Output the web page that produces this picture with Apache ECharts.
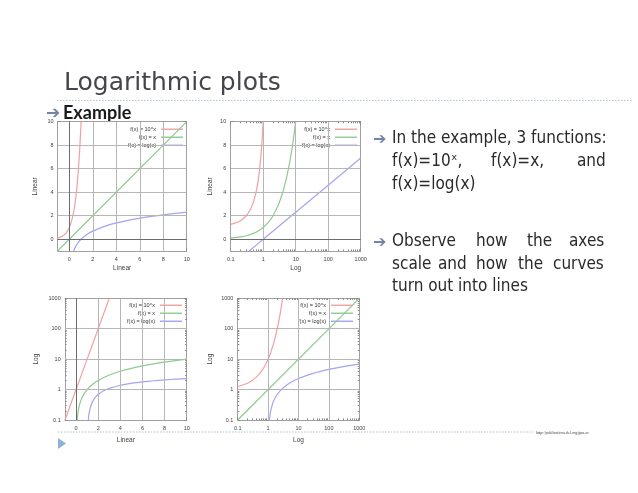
<!DOCTYPE html>
<html><head><meta charset="utf-8">
<script src="https://cdn.jsdelivr.net/npm/echarts@6/dist/echarts.min.js"></script>
<style>html,body{margin:0;padding:0;background:#fff}#c{width:638px;height:493px}</style>
</head><body><div id="c"></div>
<script>
// ---------- data ----------
const seriesNames = ['f(x) = 10^x', 'f(x) = x', 'f(x) = log(x)'];
const linTicks = [0, 2, 4, 6, 8, 10];
const logTicks = [0.1, 1, 10, 100, 1000];
const logTickLabels = ['0.1', '1', '10', '100', '1000'];
const logMinorTicks = [0.2,0.3,0.4,0.5,0.6,0.7,0.8,0.9,2,3,4,5,6,7,8,9,20,30,40,50,60,70,80,90,200,300,400,500,600,700,800,900];
const linGridLines = [2, 4, 6, 8];
const logGridLines = [1, 10, 100];
const zeroLines = [0];

// chart 1: linear x, linear y
const linLinExp = [[-1,0.1],[-0.75,0.18],[-0.5,0.32],[-0.25,0.56],[0,1],[0.2,1.58],[0.4,2.51],[0.6,3.98],[0.7,5.01],[0.8,6.31],[0.9,7.94],[1,10]];
const linLinId = [[-1,-1],[10,10]];
const linLinLog = [[0.37,-1],[0.5,-0.69],[0.75,-0.29],[1,0],[1.5,0.41],[2,0.69],[3,1.1],[4,1.39],[5,1.61],[6,1.79],[7,1.95],[8,2.08],[9,2.2],[10,2.3]];
// chart 2: log x, linear y
const logLinExp = [[0.1,1.26],[0.2,1.58],[0.3,2],[0.4,2.51],[0.5,3.16],[0.6,3.98],[0.7,5.01],[0.8,6.31],[0.9,7.94],[1,10]];
const logLinId = [[0.1,0.1],[0.2,0.2],[0.3,0.3],[0.5,0.5],[0.7,0.7],[1,1],[1.5,1.5],[2,2],[3,3],[4,4],[5,5],[6,6],[7,7],[8,8],[10,10]];
const logLinLog = [[0.37,-1],[1,0],[10,2.3],[100,4.6],[1000,6.91]];
// chart 3: linear x, log y
const linLogExp = [[-1,0.1],[0,1],[1,10],[2,100],[3,1000]];
const linLogId = [[0.1,0.1],[0.12,0.12],[0.15,0.15],[0.2,0.2],[0.3,0.3],[0.4,0.4],[0.5,0.5],[0.75,0.75],[1,1],[1.5,1.5],[2,2],[3,3],[4,4],[5,5],[6,6],[7,7],[8,8],[9,9],[10,10]];
const linLogLog = [[1.105,0.1],[1.13,0.12],[1.16,0.15],[1.22,0.2],[1.35,0.3],[1.5,0.41],[1.75,0.56],[2,0.69],[2.5,0.92],[3,1.1],[4,1.39],[5,1.61],[6,1.79],[7,1.95],[8,2.08],[9,2.2],[10,2.3]];
// chart 4: log x, log y
const logLogExp = [[0.1,1.26],[0.2,1.58],[0.3,2],[0.4,2.51],[0.5,3.16],[0.6,3.98],[0.7,5.01],[0.8,6.31],[1,10],[1.2,15.8],[1.5,31.6],[1.8,63.1],[2,100],[2.5,316],[3,1000]];
const logLogId = [[0.1,0.1],[1000,1000]];
const logLogLog = [[1.105,0.1],[1.13,0.12],[1.16,0.15],[1.22,0.2],[1.35,0.3],[1.5,0.41],[2,0.69],[3,1.1],[5,1.61],[10,2.3],[30,3.4],[100,4.6],[300,5.7],[1000,6.91]];

// ---------- layout / style ----------
const colors = ['#f2a0a0', '#8fca8f', '#a4a4f2'];
const panels = [
  { grid:{left:57.6, top:121.7, width:129.1, height:129.3},
    x:{log:false, min:-1, max:10, name:'Linear', nameGap:13.7, margin:5},
    y:{log:false, min:-1, max:10, name:'Linear', nameGap:19.3, margin:4},
    data:[linLinExp, linLinId, linLinLog],
    legend:{right:453, top:125} },
  { grid:{left:230.7, top:121.7, width:130, height:129.3},
    x:{log:true, min:0.1, max:1000, name:'Log', nameGap:13.7, margin:5},
    y:{log:false, min:-1, max:10, name:'Linear', nameGap:17.4, margin:4.5},
    data:[logLinExp, logLinId, logLinLog],
    legend:{right:279, top:125} },
  { grid:{left:65, top:298.3, width:121.7, height:121.7},
    x:{log:false, min:-1, max:10, name:'Linear', nameGap:16.7, margin:5},
    y:{log:true, min:0.1, max:1000, name:'Log', nameGap:25.7, margin:4.3},
    data:[linLogExp, linLogId, linLogLog],
    legend:{right:454, top:301} },
  { grid:{left:237.7, top:298.3, width:121.6, height:121.7},
    x:{log:true, min:0.1, max:1000, name:'Log', nameGap:16.7, margin:5},
    y:{log:true, min:0.1, max:1000, name:'Log', nameGap:24.4, margin:4.3},
    data:[logLogExp, logLogId, logLogLog],
    legend:{right:283, top:301} }
];

function fmtLabel(v) {
  const n = typeof v === 'string' ? parseFloat(v.replace(/[^0-9.\-eE]/g, '')) : +v;
  for (let i = 0; i < logTicks.length; i++) {
    if (Math.abs(n - logTicks[i]) < 1e-9 * Math.max(1, logTicks[i])) return logTickLabels[i];
  }
  return String(+n.toPrecision(4));
}
const borderColor = '#a0a0a0';
const tickColor = '#8a8a8a';

function axisSet(dim, gi, spec) {
  const isX = dim === 'x';
  const common = { gridIndex: gi, type: spec.log ? 'log' : 'value', logBase: 10,
    min: spec.min, max: spec.max, splitLine:{show:false}, minorTick:{show:false},
    minorSplitLine:{show:false}, silent:true, axisPointer:{show:false} };
  const ticks = spec.log ? logTicks : linTicks;
  const label = {show:true, margin:spec.margin, fontSize:5.5, color:'#404040',
      fontFamily:'Liberation Sans', formatter: fmtLabel};
  if (!spec.log) label.customValues = ticks;
  const list = [];
  list.push(Object.assign({}, common, {
    position: isX ? 'bottom' : 'left',
    axisLine:{show:true, onZero:false, lineStyle:{color:borderColor, width:1}},
    axisTick:{show:true, inside:true, length:3, customValues:ticks, lineStyle:{color:tickColor}},
    axisLabel: label,
    name: spec.name, nameLocation:'middle', nameGap: spec.nameGap,
    nameTextStyle:{fontSize:6.5, color:'#404040', fontFamily:'Liberation Sans'}
  }));
  list.push(Object.assign({}, common, {
    position: isX ? 'top' : 'right',
    axisLine:{show:true, onZero:false, lineStyle:{color:borderColor, width:1}},
    axisTick:{show:true, inside:true, length:3, customValues:ticks, lineStyle:{color:tickColor}},
    axisLabel:{show:false}
  }));
  if (spec.log) {
    ['bottom','top'].forEach((p, k) => {
      list.push(Object.assign({}, common, {
        position: isX ? p : (k === 0 ? 'left' : 'right'),
        axisLine:{show:false, onZero:false},
        axisTick:{show:true, inside:true, length:1.6, customValues:logMinorTicks, lineStyle:{color:tickColor}},
        axisLabel:{show:false}
      }));
    });
  }
  return list;
}

const grids = [], xAxes = [], yAxes = [], series = [], legends = [];
panels.forEach((p, gi) => {
  grids.push(Object.assign({containLabel:false}, p.grid));
  const xi = xAxes.length, yi = yAxes.length;
  axisSet('x', gi, p.x).forEach(a => xAxes.push(a));
  axisSet('y', gi, p.y).forEach(a => yAxes.push(a));
  const xl = p.x.log ? logGridLines : linGridLines;
  const yl = p.y.log ? logGridLines : linGridLines;
  const mdata = [];
  xl.forEach(v => mdata.push({xAxis:v}));
  yl.forEach(v => mdata.push({yAxis:v}));
  if (!p.x.log) zeroLines.forEach(v => mdata.push({xAxis:v, lineStyle:{color:'#6c6c6c', width:1, type:'solid'}}));
  if (!p.y.log) zeroLines.forEach(v => mdata.push({yAxis:v, lineStyle:{color:'#6c6c6c', width:1, type:'solid'}}));
  series.push({ type:'line', xAxisIndex:xi, yAxisIndex:yi, data:[], z:1, silent:true,
    markLine:{ silent:true, symbol:['none','none'], label:{show:false}, animation:false,
      lineStyle:{type:'solid', color:'#b6b6b6', width:1}, data: mdata }});
  p.data.forEach((d, k) => {
    series.push({ type:'line', name:seriesNames[k], xAxisIndex:xi, yAxisIndex:yi, data:d,
      symbol:'none', showSymbol:false, smooth:0.25, clip:true, z:3, silent:true,
      lineStyle:{width:1.2, color:colors[k]}, itemStyle:{color:colors[k]} });
  });
  legends.push({ orient:'vertical', align:'right', right:p.legend.right, top:p.legend.top,
    data:seriesNames, icon:'rect', itemWidth:22, itemHeight:1.4, itemGap:1.5,
    padding:[1,2,1,2], backgroundColor:'#fff', z:2, selectedMode:false,
    textStyle:{fontSize:5.5, color:'#333', fontFamily:'Liberation Sans', width:44, lineHeight:6.5, overflow:'none'} });
});

const bodyFont = '"DejaVu Sans Condensed", "DejaVu Sans", sans-serif';
function txt(t, x, y, size, fill, family, weight) {
  return { type:'text', x:x, y:y, silent:true, style:{ text:t, fontSize:size, fontFamily:family || bodyFont,
    fontWeight:weight || 'normal', fill:fill || '#2a2a2a', align:'left', textAlign:'left',
    verticalAlign:'middle', textVerticalAlign:'middle' } };
}
const arrowColor = '#7384a8';
const graphics = [
  txt('Logarithmic plots', 64, 83, 25, '#45454f', '"DejaVu Sans", sans-serif'),
  { type:'line', silent:true, shape:{x1:57, y1:100.5, x2:632, y2:100.5}, style:{stroke:'#adc2d6', lineWidth:1, lineDash:[1.5,1.5]} },
  txt('\u2794', 46, 114, 17, arrowColor, '"DejaVu Sans", sans-serif'),
  txt('Example', 63, 113.5, 18, '#1a1a1a', 'Lato, "Open Sans", sans-serif', 'bold'),
  txt('\u2794', 373, 139.5, 16, arrowColor, '"DejaVu Sans", sans-serif'),
  txt('In the example, 3 functions:', 392, 139, 17),
  txt('f(x)=10\u02E3,', 392, 162, 17),
  txt('f(x)=x,', 491, 162, 17),
  txt('and', 577, 162, 17),
  txt('f(x)=log(x)', 392, 185, 17),
  txt('\u2794', 373, 242.5, 16, arrowColor, '"DejaVu Sans", sans-serif'),
  txt('Observe', 392, 242, 17),
  txt('how', 476, 242, 17),
  txt('the', 527, 242, 17),
  txt('axes', 569, 242, 17),
  txt('scale', 392, 265, 17),
  txt('and', 438, 265, 17),
  txt('how', 476, 265, 17),
  txt('the', 518, 265, 17),
  txt('curves', 553, 265, 17),
  txt('turn out into lines', 392, 287, 17),
  { type:'line', silent:true, shape:{x1:58, y1:432, x2:533, y2:432}, style:{stroke:'#adc2d6', lineWidth:1, lineDash:[1.5,1.5]} },
  txt('http://publications.del.org/gnu.ac', 536, 433, 4, '#444', '"Liberation Serif", serif'),
  { type:'polygon', silent:true, shape:{points:[[58,438],[58,449],[66,443.5]]}, style:{fill:'#8fb1d6'} }
];

const chart = echarts.init(document.getElementById('c'), null, {renderer:'canvas'});
chart.setOption({
  animation:false,
  backgroundColor:'#fff',
  grid: grids, xAxis: xAxes, yAxis: yAxes, series: series, legend: legends,
  graphic: graphics
});
</script></body></html>
